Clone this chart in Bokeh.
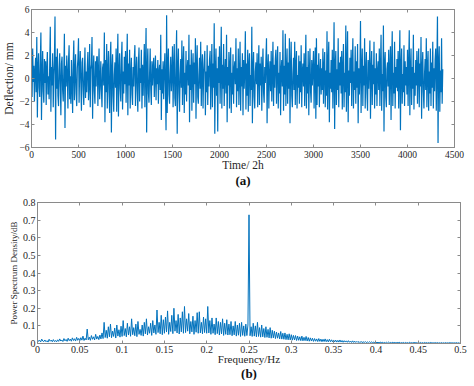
import numpy as np
from bokeh.plotting import figure
from bokeh.layouts import column, row
from bokeh.models import Range1d, LinearAxis
from bokeh.embed import file_html
from bokeh.resources import INLINE

# ---------------- data ----------------
time_step = 6.25  # time units (2h) between samples
deflection = [
    0.4, -1.6, 2.6, -0.3, 1.1, -2.0, 0.6, 1.8, -1.2, 3.6, -3.4, 0.9, 2.2, -0.8, -1.6, 1.4,
    4.0, -3.6, 0.5, 2.4, -1.1, -2.1, 1.7, -0.4, 1.5, -2.3, 0.8, 2.3, -1.4, 0.2, -1.8, 1.2,
    4.5, -2.9, 1.0, -0.6, 2.2, -2.5, 0.3, 1.6, 5.4, -5.3, 1.9, -0.9, 2.6, -1.5, -2.4, 0.7,
    2.2, -0.5, -3.2, 1.3, 1.9, -1.0, -2.0, 0.6, 3.9, -4.3, 1.1, -0.7, 2.0, 0.4, -2.6, 1.5,
    2.9, -1.8, 0.2, -2.2, 1.6, -0.6, -3.0, 1.2, 3.3, -1.9, 0.5, 2.1, -1.3, -2.4, 0.9, 1.7,
    3.5, -2.1, 0.7, 2.4, -0.4, -2.8, 1.4, 1.8, -1.0, -2.3, 0.3, 2.7, -1.7, 0.6, -1.2, 1.0,
    2.3, -1.9, -0.5, 3.0, -2.5, 0.8, 1.2, 3.6, -3.5, 0.4, 2.0, -1.1, -2.2, 1.5, -0.7, 1.9,
    1.9, -2.4, 0.6, 2.6, -1.8, -0.3, 1.5, -1.0, -2.5, 0.9, 1.3, -0.6, 4.0, -3.8, 1.6, -1.2,
    3.0, -2.6, 0.5, 2.4, -1.2, -3.0, 1.8, 3.2, -4.7, 0.7, 2.1, -1.5, -2.9, 0.3, 1.4, -0.8,
    2.6, -2.9, 1.1, 3.9, -3.3, 0.4, 2.2, -0.9, -2.0, 1.6, 3.2, -2.7, 0.6, -1.3, 1.9, -0.5,
    2.4, -2.1, 0.8, 3.9, -3.2, 1.3, -0.6, 2.5, -2.6, 0.3, 1.8, -1.4, -2.3, 1.0, -0.7, 1.7,
    2.9, -2.4, 0.5, 1.9, -1.1, -2.9, 1.4, 2.7, -2.0, 0.9, -0.4, 2.5, -2.6, 1.2, -1.5, 0.6,
    3.0, -2.5, 1.1, 4.4, -4.7, 0.7, 2.6, -1.3, -2.1, 0.4, 2.6, -0.9, -2.3, 1.5, -0.6, 1.0,
    1.8, -1.6, 0.4, 2.0, -1.9, 0.9, -0.5, 1.6, -2.2, 0.6, 1.2, -1.0, 3.8, -3.6, 0.8, -1.3,
    1.5, -1.8, 0.7, 2.2, -0.8, -4.5, 5.5, -3.0, 1.0, 2.6, -1.4, -2.2, 0.5, 1.9, -1.1, 0.3,
    2.8, -2.5, 0.6, 3.0, -1.7, -2.4, 1.3, 4.2, -4.8, 0.9, 2.6, -1.2, -2.9, 0.4, 1.7, -0.8,
    3.3, -2.3, 1.0, 2.8, -3.0, 0.5, -1.4, 2.4, -2.0, 0.8, 1.6, -0.6, 3.8, -3.8, 1.2, -1.0,
    2.5, -2.8, 0.7, 2.2, -2.1, 1.4, -0.5, 3.5, -3.5, 1.0, 2.9, -1.6, -2.2, 0.3, 1.8, -0.9,
    3.2, -2.4, 0.9, 2.1, -2.6, 0.4, 1.5, 2.4, -3.2, 0.6, -1.2, 2.9, -2.3, 1.1, -0.7, 1.6,
    2.4, -2.7, 0.5, 3.0, -2.5, 1.3, -0.8, 4.8, -4.8, 0.7, 2.6, -1.5, 0.9, -4.6, 1.9, -0.4,
    2.8, -2.2, 0.6, 4.5, -2.6, 1.2, -0.9, 3.0, -2.4, 0.4, 1.7, -1.3, 3.8, -3.8, 1.0, -0.6,
    2.3, -2.6, 1.1, 2.7, -3.0, 0.5, -1.4, 2.1, -2.2, 0.8, 1.5, -0.5, 3.5, -2.5, 0.9, -1.1,
    2.6, -2.3, 0.4, 3.2, -2.8, 1.0, -0.7, 2.2, -3.2, 1.6, -0.9, 0.6, 4.1, -2.7, 1.3, -1.5,
    2.5, -2.9, 1.2, 2.2, -2.4, 0.3, -1.0, 4.5, -3.9, 0.8, 2.3, -1.6, -2.6, 0.6, 1.4, -0.5,
    2.2, -2.5, 0.7, 2.9, -2.3, 1.3, -0.6, 1.9, -2.8, 0.5, 2.6, -1.2, -2.1, 1.0, -0.4, 1.6,
    3.5, -3.9, 0.9, 2.1, -2.6, 0.4, 1.5, -1.1, 2.4, -2.0, 0.6, 3.2, -2.4, 1.2, -0.8, 1.7,
    2.5, -2.2, 1.0, 2.8, -2.6, 0.5, -1.3, 2.3, -3.2, 0.8, 1.6, -0.7, 4.2, -2.8, 1.1, -1.4,
    3.9, -2.4, 0.6, 2.6, -2.2, 1.4, -0.9, 3.5, -3.9, 0.7, 3.2, -1.5, -2.5, 0.4, 1.8, -1.0,
    3.2, -2.3, 1.1, 2.4, -2.6, 0.3, -0.8, 2.0, -2.2, 1.5, -1.2, 2.9, -2.5, 0.6, 1.3, -0.7,
    2.2, -2.4, 0.8, 3.8, -2.6, 1.0, -1.3, 2.4, -3.2, 0.5, 2.6, -1.1, -2.1, 1.6, -0.6, 0.9,
    2.4, -2.6, 0.6, 2.7, -3.5, 3.5, -2.3, 1.2, -0.7, 2.2, -2.5, 0.4, 1.7, -1.4, 0.9, -1.0,
    2.6, -2.2, 1.0, 2.3, -2.5, 0.7, -1.5, 4.1, -2.7, 1.3, 3.2, -3.8, 0.5, -0.9, 1.6, -1.2,
    2.5, -2.6, 0.4, 4.9, -4.4, 1.1, 2.4, -2.3, 0.8, -1.0, 3.5, -2.5, 1.4, -0.6, 1.9, -1.3,
    2.4, -2.7, 0.9, 3.0, -2.5, 0.5, -1.2, 4.6, -2.9, 1.0, 4.1, -3.8, 0.7, -1.5, 1.8, -0.4,
    2.5, -2.4, 1.2, 3.5, -2.6, 0.6, -1.0, 2.8, -2.2, 1.5, -0.8, 3.0, -3.9, 0.9, -1.4, 0.4,
    5.0, -3.0, 0.8, 2.6, -2.4, 1.1, -0.6, 3.5, -2.6, 0.5, 2.3, -1.3, -2.8, 1.6, -0.9, 1.0,
    3.3, -3.5, 0.7, 2.4, -2.3, 1.2, -0.5, 3.2, -2.6, 0.9, -1.4, 2.2, -2.4, 0.6, 1.5, -1.0,
    2.6, -2.4, 1.0, 3.8, -2.8, 0.4, -1.1, 4.6, -4.6, 1.3, 2.3, -1.6, -2.5, 0.8, 1.4, -0.7,
    2.5, -2.3, 0.6, 2.8, -3.6, 1.2, 4.1, -2.4, 0.5, -1.3, 3.2, -2.6, 1.0, -0.8, 1.7, -1.1,
    2.4, -2.6, 0.9, 4.2, -4.5, 1.1, 2.6, -2.2, 0.4, -1.2, 2.9, -2.4, 1.5, -0.6, 1.0, -1.4,
    2.5, -2.4, 1.2, 4.2, -3.2, 0.7, 2.6, -2.3, 1.0, -0.9, 3.8, -2.7, 0.5, -1.5, 1.6, -0.6,
    2.4, -2.2, 0.8, 2.6, -2.5, 1.3, -0.7, 3.6, -3.5, 0.9, 2.3, -1.2, -2.6, 0.4, 1.7, -1.0,
    3.5, -2.5, 1.0, 2.4, -2.8, 0.6, -1.3, 2.6, -2.4, 1.4, -0.8, 3.2, -2.6, 0.9, -1.1, 1.6,
    2.6, -2.8, 1.1, 5.4, -5.6, 1.3, 2.8, -2.9, 0.7, -1.2, 3.5, -2.2, 0.8,
]

freq_step = 0.00125  # Hz between spectrum values
psd = [
    0.022, 0.012, 0.018, 0.009, 0.025, 0.014, 0.011, 0.020, 0.010, 0.016, 0.008, 0.024, 0.013, 0.019, 0.010, 0.022, 0.011, 0.017, 0.009, 0.021,
    0.012, 0.026, 0.014, 0.020, 0.011, 0.028, 0.015, 0.023, 0.012, 0.030, 0.016, 0.025, 0.013, 0.032, 0.017, 0.027, 0.014, 0.035, 0.018, 0.029,
    0.016, 0.033, 0.019, 0.042, 0.017, 0.030, 0.020, 0.082, 0.021, 0.036, 0.018, 0.045, 0.024, 0.038, 0.020, 0.052, 0.025, 0.040, 0.022, 0.048,
    0.026, 0.060, 0.028, 0.120, 0.034, 0.075, 0.030, 0.095, 0.038, 0.110, 0.033, 0.070, 0.040, 0.088, 0.031, 0.105, 0.042, 0.078, 0.036, 0.098,
    0.040, 0.130, 0.045, 0.085, 0.038, 0.115, 0.048, 0.095, 0.041, 0.140, 0.050, 0.090, 0.044, 0.110, 0.039, 0.125, 0.052, 0.080, 0.046, 0.105,
    0.042, 0.120, 0.055, 0.140, 0.048, 0.095, 0.058, 0.115, 0.046, 0.130, 0.060, 0.105, 0.052, 0.190, 0.062, 0.120, 0.055, 0.160, 0.050, 0.135,
    0.058, 0.150, 0.065, 0.185, 0.052, 0.120, 0.068, 0.160, 0.056, 0.200, 0.070, 0.130, 0.060, 0.165, 0.054, 0.145, 0.066, 0.180, 0.058, 0.210,
    0.062, 0.140, 0.070, 0.170, 0.055, 0.125, 0.066, 0.155, 0.052, 0.130, 0.064, 0.175, 0.058, 0.180, 0.060, 0.120, 0.055, 0.150, 0.062, 0.140,
    0.058, 0.210, 0.060, 0.130, 0.052, 0.145, 0.058, 0.110, 0.050, 0.145, 0.056, 0.125, 0.048, 0.120, 0.054, 0.140, 0.046, 0.115, 0.052, 0.135,
    0.048, 0.110, 0.050, 0.125, 0.044, 0.100, 0.049, 0.125, 0.042, 0.105, 0.047, 0.115, 0.040, 0.120, 0.046, 0.100, 0.041, 0.110, 0.045, 0.105,
    0.730, 0.044, 0.095, 0.040, 0.115, 0.042, 0.100, 0.038, 0.120, 0.040, 0.090, 0.036, 0.105, 0.038, 0.085, 0.034, 0.095, 0.035, 0.080, 0.032,
    0.090, 0.030, 0.075, 0.032, 0.070, 0.028, 0.065, 0.030, 0.060, 0.026, 0.068, 0.025, 0.058, 0.024, 0.060, 0.022, 0.052, 0.021, 0.055, 0.020,
    0.050, 0.019, 0.046, 0.020, 0.045, 0.017, 0.042, 0.018, 0.038, 0.016, 0.042, 0.015, 0.035, 0.016, 0.040, 0.014, 0.034, 0.013, 0.032, 0.014,
    0.030, 0.012, 0.028, 0.013, 0.026, 0.011, 0.028, 0.012, 0.025, 0.010, 0.024, 0.011, 0.026, 0.010, 0.022, 0.009, 0.024, 0.010, 0.021, 0.009,
    0.020, 0.009, 0.019, 0.008, 0.018, 0.008, 0.020, 0.008, 0.017, 0.007, 0.016, 0.008, 0.015, 0.007, 0.016, 0.007, 0.014, 0.006, 0.015, 0.006,
    0.013, 0.006, 0.012, 0.006, 0.011, 0.005, 0.012, 0.005, 0.010, 0.005, 0.011, 0.005, 0.009, 0.004, 0.010, 0.005, 0.009, 0.004, 0.008, 0.004,
    0.008, 0.004, 0.007, 0.003, 0.008, 0.004, 0.007, 0.003, 0.006, 0.003, 0.007, 0.003, 0.008, 0.003, 0.006, 0.003, 0.007, 0.003, 0.006, 0.002,
    0.006, 0.003, 0.007, 0.002, 0.005, 0.003, 0.006, 0.002, 0.006, 0.003, 0.005, 0.002, 0.007, 0.002, 0.005, 0.002, 0.006, 0.003, 0.005, 0.002,
    0.005, 0.002, 0.006, 0.002, 0.005, 0.002, 0.006, 0.003, 0.005, 0.002, 0.005, 0.002, 0.006, 0.002, 0.004, 0.002, 0.005, 0.002, 0.005, 0.002,
    0.004, 0.002, 0.005, 0.002, 0.004, 0.002, 0.005, 0.002, 0.004, 0.002, 0.005, 0.002, 0.004, 0.002, 0.004, 0.002, 0.005, 0.002, 0.004, 0.002,
    0.004,
]

x1_ticks = [0, 500, 1000, 1500, 2000, 2500, 3000, 3500, 4000, 4500]
y1_ticks = [-6, -4, -2, 0, 2, 4, 6]
x2_ticks = [0, 0.05, 0.1, 0.15, 0.2, 0.25, 0.3, 0.35, 0.4, 0.45, 0.5]
x2_labels = ["0", "0.05", "0.1", "0.15", "0.2", "0.25", "0.3", "0.35", "0.4", "0.45", "0.5"]
y2_ticks = [0, 0.1, 0.2, 0.3, 0.4, 0.5, 0.6, 0.7, 0.8]
y2_labels = ["0", "0.1", "0.2", "0.3", "0.4", "0.5", "0.6", "0.7", "0.8"]

time = np.arange(len(deflection)) * time_step
freq = np.arange(len(psd)) * freq_step

# ---------------- styling helpers ----------------
FONT = "Liberation Serif"
GREY = "#8a8a8a"
TXT = "#262626"
BLUE = "#0072BD"


def style_axis(ax, fs):
    ax.axis_line_color = GREY
    ax.major_tick_line_color = GREY
    ax.major_tick_in = 3
    ax.major_tick_out = 0
    ax.minor_tick_line_color = None
    ax.major_label_text_font = FONT
    ax.major_label_text_font_size = fs
    ax.major_label_text_color = TXT
    ax.major_label_standoff = 2
    ax.axis_label_text_font = FONT
    ax.axis_label_text_font_style = "normal"
    ax.axis_label_text_color = TXT
    ax.axis_label_standoff = 1


def add_box_axes(p, xt, yt):
    top = LinearAxis(ticker=xt)
    right = LinearAxis(ticker=yt)
    for ax, ticks in ((top, xt), (right, yt)):
        style_axis(ax, "1px")
        ax.major_label_standoff = 0
        ax.major_label_overrides = {t: "" for t in ticks}
    p.add_layout(top, "above")
    p.add_layout(right, "right")


def style_title(p, text, standoff):
    p.title.text = text
    p.title_location = "below"
    p.title.align = "center"
    p.title.vertical_align = "top"
    p.title.text_font = FONT
    p.title.text_font_size = "13px"
    p.title.text_font_style = "bold"
    p.title.text_color = "#111111"
    p.title.standoff = standoff


# ---------------- (a) time series ----------------
p1 = figure(frame_width=423, frame_height=138, output_backend="svg", toolbar_location=None,
            x_range=Range1d(0, 4500), y_range=Range1d(-6, 6),
            min_border_left=31, min_border_right=20, min_border_top=9,
            min_border_bottom=10)
p1.line(time, deflection, line_color=BLUE, line_width=1.2, line_join="bevel")
p1.xaxis.ticker = x1_ticks
p1.yaxis.ticker = y1_ticks
style_axis(p1.xaxis[0], "9.5px")
style_axis(p1.yaxis[0], "9.5px")
p1.xaxis.axis_label = "Time/ 2h"
p1.yaxis.axis_label = "Deflection/ mm"
p1.xaxis.axis_label_text_font_size = "11.5px"
p1.yaxis.axis_label_text_font_size = "11.5px"
p1.xaxis.major_label_standoff = 3
p1.xaxis.axis_label_standoff = -2
p1.yaxis.major_label_standoff = 2
p1.yaxis.axis_label_standoff = 1
add_box_axes(p1, x1_ticks, y1_ticks)
p1.grid.visible = False
p1.outline_line_color = GREY
style_title(p1, "(a)", -2)

# ---------------- (b) power spectrum ----------------
p2 = figure(frame_width=423, frame_height=141, output_backend="svg", toolbar_location=None,
            x_range=Range1d(0, 0.5), y_range=Range1d(0, 0.8),
            min_border_left=37, min_border_right=14, min_border_top=14,
            min_border_bottom=5)
p2.line(freq, psd, line_color=BLUE, line_width=1.0, line_join="bevel")
p2.xaxis.ticker = x2_ticks
p2.yaxis.ticker = y2_ticks
p2.xaxis.major_label_overrides = dict(zip(x2_ticks, x2_labels))
p2.yaxis.major_label_overrides = dict(zip(y2_ticks, y2_labels))
style_axis(p2.xaxis[0], "10px")
style_axis(p2.yaxis[0], "10px")
p2.xaxis.axis_label = "Frequency/Hz"
p2.yaxis.axis_label = "Power Spectrum Density/dB"
p2.xaxis.axis_label_text_font_size = "11px"
p2.yaxis.axis_label_text_font_size = "9px"
p2.xaxis.axis_label_standoff = -3
add_box_axes(p2, x2_ticks, y2_ticks)
p2.grid.visible = False
p2.outline_line_color = GREY
style_title(p2, "(b)", -4)

layout = column(row(p1), row(p2), spacing=0)
open("out.html", "w").write(file_html(layout, INLINE))
